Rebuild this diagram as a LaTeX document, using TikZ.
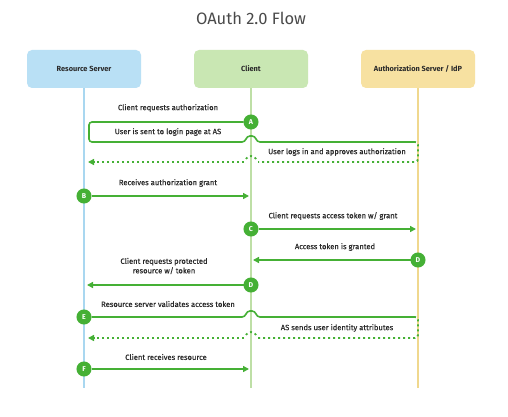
\documentclass[tikz,border=0pt]{standalone}
\usepackage{fontspec}
\setmainfont{Fira Sans}
\newfontfamily\lblfont[FakeBold=0.35]{Fira Sans}
\usetikzlibrary{arrows.meta}
\definecolor{grn}{HTML}{45B035}
\definecolor{bluefill}{HTML}{B9E0F5}
\definecolor{greenfill}{HTML}{C9E7B3}
\definecolor{yellowfill}{HTML}{F7E1A1}
\definecolor{blueline}{HTML}{A9D7F0}
\definecolor{greenline}{HTML}{BEDFA6}
\definecolor{yellowline}{HTML}{F0D88E}
\definecolor{txt}{HTML}{2A2A2A}
\tikzset{
  actor/.style={rounded corners=5pt, minimum width=114pt, minimum height=38pt, inner sep=0pt,
    font=\fontsize{7.4}{8}\selectfont\bfseries, text=txt},
  life/.style={line width=2pt},
  stepdot/.style={circle, fill=grn, draw=grn, line width=1pt, minimum size=14pt, inner sep=0pt,
    font=\fontsize{7}{7}\selectfont\bfseries, text=white},
  msg/.style={draw=grn, line width=1.6pt, -{Triangle[length=6pt,width=6pt]}},
  msgplain/.style={draw=grn, line width=1.6pt, rounded corners=3pt},
  msgdot/.style={draw=grn, line width=1.8pt, dash pattern=on 2pt off 3pt, rounded corners=3pt},
  lbl/.style={font=\lblfont\fontsize{7.6}{9.5}\selectfont, text=txt, align=center, inner sep=0pt}
}
\begin{document}
\begin{tikzpicture}[x=1pt,y=-1pt]
\useasboundingbox (0,0) rectangle (508,417);
\fill[white] (0,0) rectangle (508,417);
\node[font=\fontsize{16.5}{18}\selectfont, text=txt!85] (title) at (251,18) {OAuth 2.0 Flow};
% actors
\node[actor, fill=bluefill] (rs) at (84,69) {Resource Server};
\node[actor, fill=greenfill] (cl) at (251,69) {Client};
\node[actor, fill=yellowfill] (as) at (418,69) {Authorization Server / IdP};
\coordinate (rsend) at (84,388);
\coordinate (clend) at (251,388);
\coordinate (asend) at (418,388);
\draw[life, blueline] (rs.south) -- (rsend);
\draw[life, greenline] (cl.south) -- (clend);
\draw[life, yellowline] (as.south) -- (asend);
% step circles
\node[stepdot] (A) at (251,122) {A};
\node[stepdot] (B) at (84,196) {B};
\node[stepdot] (C) at (251,229) {C};
\node[stepdot] (D1) at (418,260) {D};
\node[stepdot] (D2) at (251,285) {D};
\node[stepdot] (E) at (84,317) {E};
\node[stepdot] (F) at (84,369) {F};
% end coordinates
\coordinate (a1) at (89,122);
\coordinate (a2) at (89,142);
\coordinate (a3) at (418,142);
\coordinate (a4) at (418,162);
\coordinate (a5) at (88,162);
\coordinate (bEnd) at (249,196);
\coordinate (cEnd) at (416,229);
\coordinate (dEnd) at (253,260);
\coordinate (d2End) at (87,285);
\coordinate (e3) at (418,317);
\coordinate (e4) at (418,338);
\coordinate (e5) at (88,338);
\coordinate (fEnd) at (249,369);
% flow A
\draw[msgplain] (A.west) -- (a1) -- (a2) -- (245,142) -- (247,136) -- (255,136) -- (257,142) -- ([xshift=-4pt]a3);
\draw[msgdot] ([xshift=-4pt]a3) -- (a3) -- (a4) -- (258,162);
\draw[msgdot] (256,159) -- (254,156) -- (248,156) -- (246,159);
\draw[msgdot, -{Triangle[length=6pt,width=6pt]}] (244,162) -- (a5);
% B, C, D
\draw[msg] (B.east) -- (bEnd);
\draw[msg] (C.east) -- (cEnd);
\draw[msg] (D1.west) -- (dEnd);
\draw[msg] (D2.west) -- (d2End);
% flow E
\draw[msgplain] (E.east) -- (245,317) -- (247,311) -- (255,311) -- (257,317) -- ([xshift=-4pt]e3);
\draw[msgdot] ([xshift=-4pt]e3) -- (e3) -- (e4) -- (258,338);
\draw[msgdot] (256,335) -- (254,332) -- (248,332) -- (246,335);
\draw[msgdot, -{Triangle[length=6pt,width=6pt]}] (244,338) -- (e5);
% F
\draw[msg] (F.east) -- (fEnd);
% labels
\node[lbl] (l1) at (168,108) {Client requests authorization};
\node[lbl] (l2) at (168,132) {User is sent to login page at AS};
\node[lbl] (l3) at (337,152) {User logs in and approves authorization};
\node[lbl] (l4) at (168,183) {Receives authorization grant};
\node[lbl] (l5) at (333,216) {Client requests access token w/ grant};
\node[lbl] (l6) at (335,247) {Access token is granted};
\node[lbl] (l7) at (164,266) {Client requests protected\\resource w/ token};
\node[lbl] (l8) at (168,304) {Resource server validates access token};
\node[lbl] (l9) at (337,328) {AS sends user identity attributes};
\node[lbl] (l10) at (166,357) {Client receives resource};
\end{tikzpicture}
\end{document}
